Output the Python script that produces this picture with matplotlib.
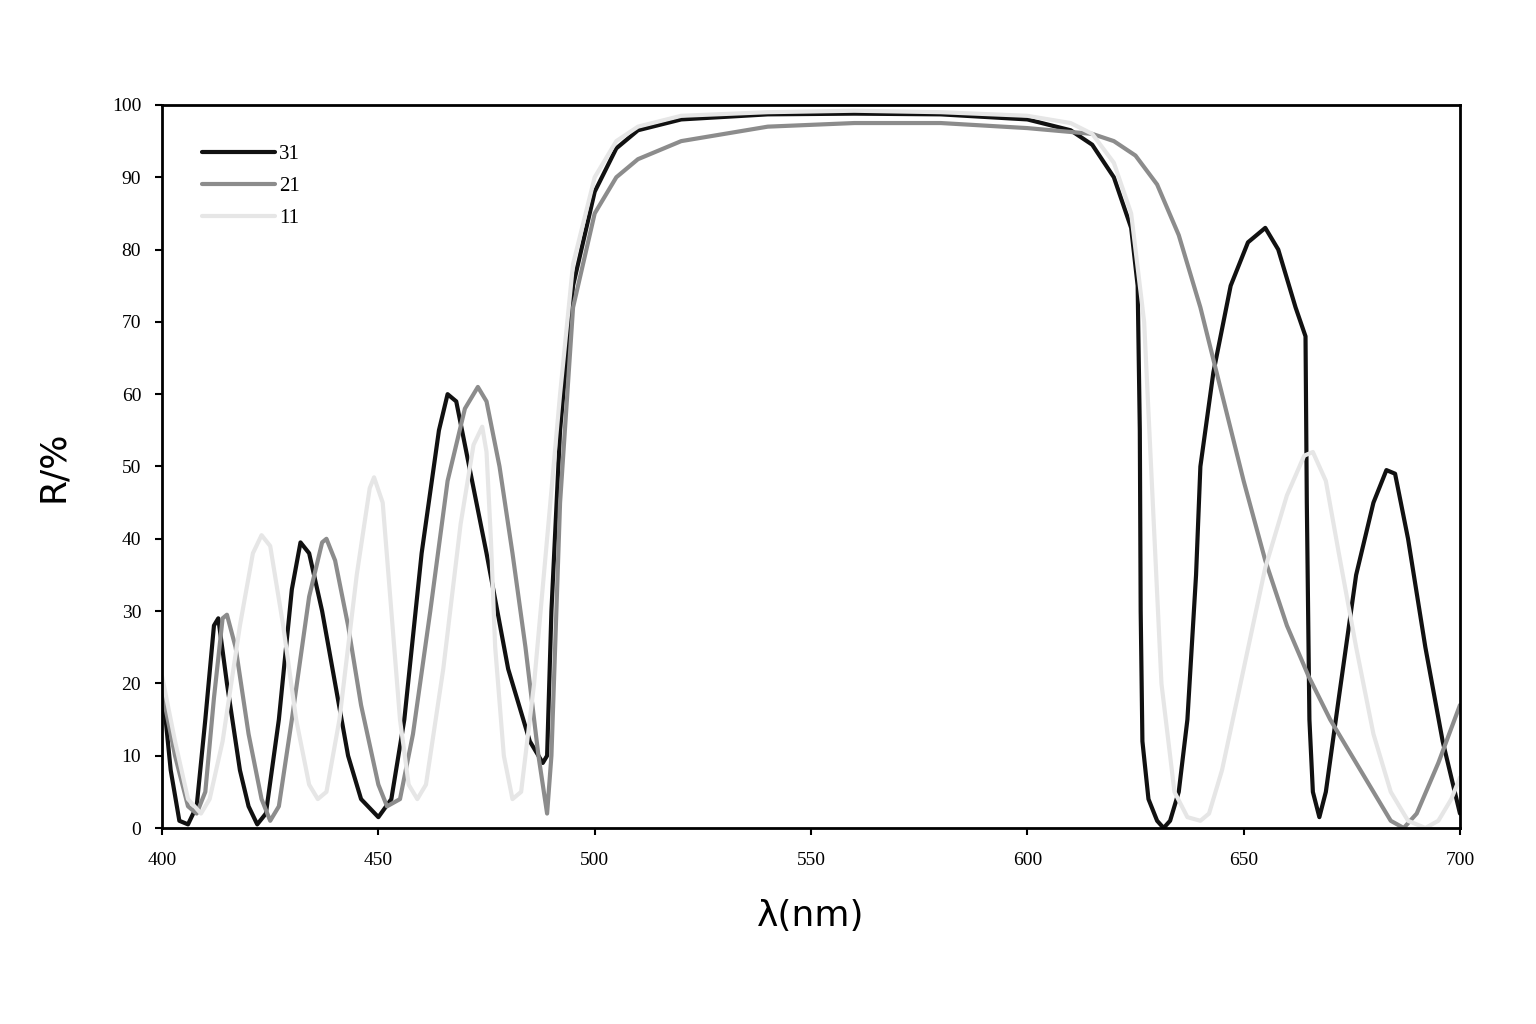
import numpy as np
import matplotlib.pyplot as plt

plt.rc('font', size=13, family='Liberation Serif')

# sample 31 (black)
wl31 = [400, 402, 404, 406, 408, 410, 412, 413, 415, 418, 420, 422, 424, 427, 430, 432, 434, 437, 440, 443,
        446, 450, 453, 456, 460, 464, 466, 468, 471, 475, 480, 485, 488, 489, 490, 492, 495, 500, 505, 510,
        520, 540, 560, 580, 600, 610, 615, 620, 624, 625.5, 626, 626.2, 626.6, 628, 630, 631.5, 633, 635, 637,
        639, 640, 643, 647, 651, 655, 658, 662, 664.3, 664.6, 665.2, 666, 667.5, 669, 672, 676, 680, 683, 685,
        688, 692, 696, 700]
r31 = [20, 8, 1, 0.5, 3, 15, 28, 29, 20, 8, 3, 0.5, 2, 15, 33, 39.5, 38, 30, 20, 10,
       4, 1.5, 4, 15, 38, 55, 60, 59, 50, 38, 22, 12, 9, 10, 30, 55, 75, 88, 94, 96.5,
       98, 98.7, 98.8, 98.7, 98, 96.5, 94.5, 90, 83, 75, 55, 30, 12, 4, 1, 0, 1, 5, 15,
       35, 50, 63, 75, 81, 83, 80, 72, 68, 45, 15, 5, 1.5, 5, 18, 35, 45, 49.5, 49,
       40, 25, 12, 2]

# sample 21 (grey)
wl21 = [400, 403, 406, 408, 410, 412, 414, 415, 417, 420, 423, 425, 427, 430, 434, 437, 438, 440, 443, 446,
        450, 452, 455, 458, 462, 466, 470, 473, 475, 478, 481, 484, 487, 489, 490, 492, 495, 500, 505, 510,
        520, 540, 560, 580, 600, 615, 620, 625, 630, 635, 640, 645, 650, 655, 660, 665, 670, 675, 680, 684,
        687, 690, 695, 700]
r21 = [19, 10, 3, 2, 5, 18, 29, 29.5, 25, 13, 4, 1, 3, 15, 32, 39.5, 40, 37, 28, 17,
       6, 3, 4, 13, 30, 48, 58, 61, 59, 50, 38, 25, 10, 2, 10, 45, 72, 85, 90, 92.5,
       95, 97, 97.5, 97.5, 96.8, 96, 95, 93, 89, 82, 72, 60, 48, 37, 28, 21, 15, 10, 5, 1,
       0, 2, 9, 17]

# sample 11 (light grey)
wl11 = [400, 403, 406, 409, 411, 414, 418, 421, 423, 425, 428, 431, 434, 436, 438, 441, 445, 448, 449, 451,
        453, 455, 457, 459, 461, 465, 469, 472, 474, 475, 476, 477, 479, 481, 483, 486, 489, 492, 495, 500,
        505, 510, 520, 540, 560, 580, 600, 610, 615, 620, 624, 627, 629, 631, 634, 637, 640, 642, 645, 650,
        655, 660, 664, 666, 669, 672, 676, 680, 684, 688, 692, 695, 698, 700]
r11 = [21, 12, 4, 2, 4, 12, 28, 38, 40.5, 39, 28, 15, 6, 4, 5, 15, 35, 47, 48.5, 45,
       30, 15, 6, 4, 6, 22, 42, 53, 55.5, 52, 40, 25, 10, 4, 5, 20, 40, 60, 78, 90,
       95, 97, 98.5, 99, 99.2, 99, 98.5, 97.5, 96, 92, 85, 70, 45, 20, 5, 1.5, 1, 2, 8, 22,
       36, 46, 51.5, 52, 48, 38, 25, 13, 5, 1, 0, 1, 4, 7]

fig = plt.figure(figsize=(15.36, 10.24), dpi=100)
ax = fig.add_axes([0.1055, 0.1914, 0.845, 0.7061])
kw = dict(lw=3, solid_joinstyle='round', solid_capstyle='round')
ax.plot(wl31, r31, color='#111111', label='31', **kw)
ax.plot(wl21, r21, color='#8c8c8c', label='21', **kw)
ax.plot(wl11, r11, color='#e6e6e6', label='11', **kw)

ax.set_xlim(400, 700)
ax.set_ylim(0, 100)
ax.set_xticks(np.arange(400, 701, 50))
ax.set_yticks(np.arange(0, 101, 10))
for s in ax.spines.values():
    s.set_linewidth(2)
ax.tick_params(direction='out', width=1.5, length=5, labelsize=14)
ax.tick_params(axis='x', pad=12)
ax.tick_params(axis='y', pad=10)
ax.set_xlabel('λ(nm)', family='DejaVu Sans', fontsize=26, labelpad=22)
ax.set_ylabel('R/%', family='DejaVu Sans', fontsize=26, labelpad=30)
ax.legend(loc='upper left', frameon=False, fontsize=15, handlelength=3.5,
          handletextpad=0.2, borderaxespad=1.5, labelspacing=0.6)

fig.savefig('out.png')
